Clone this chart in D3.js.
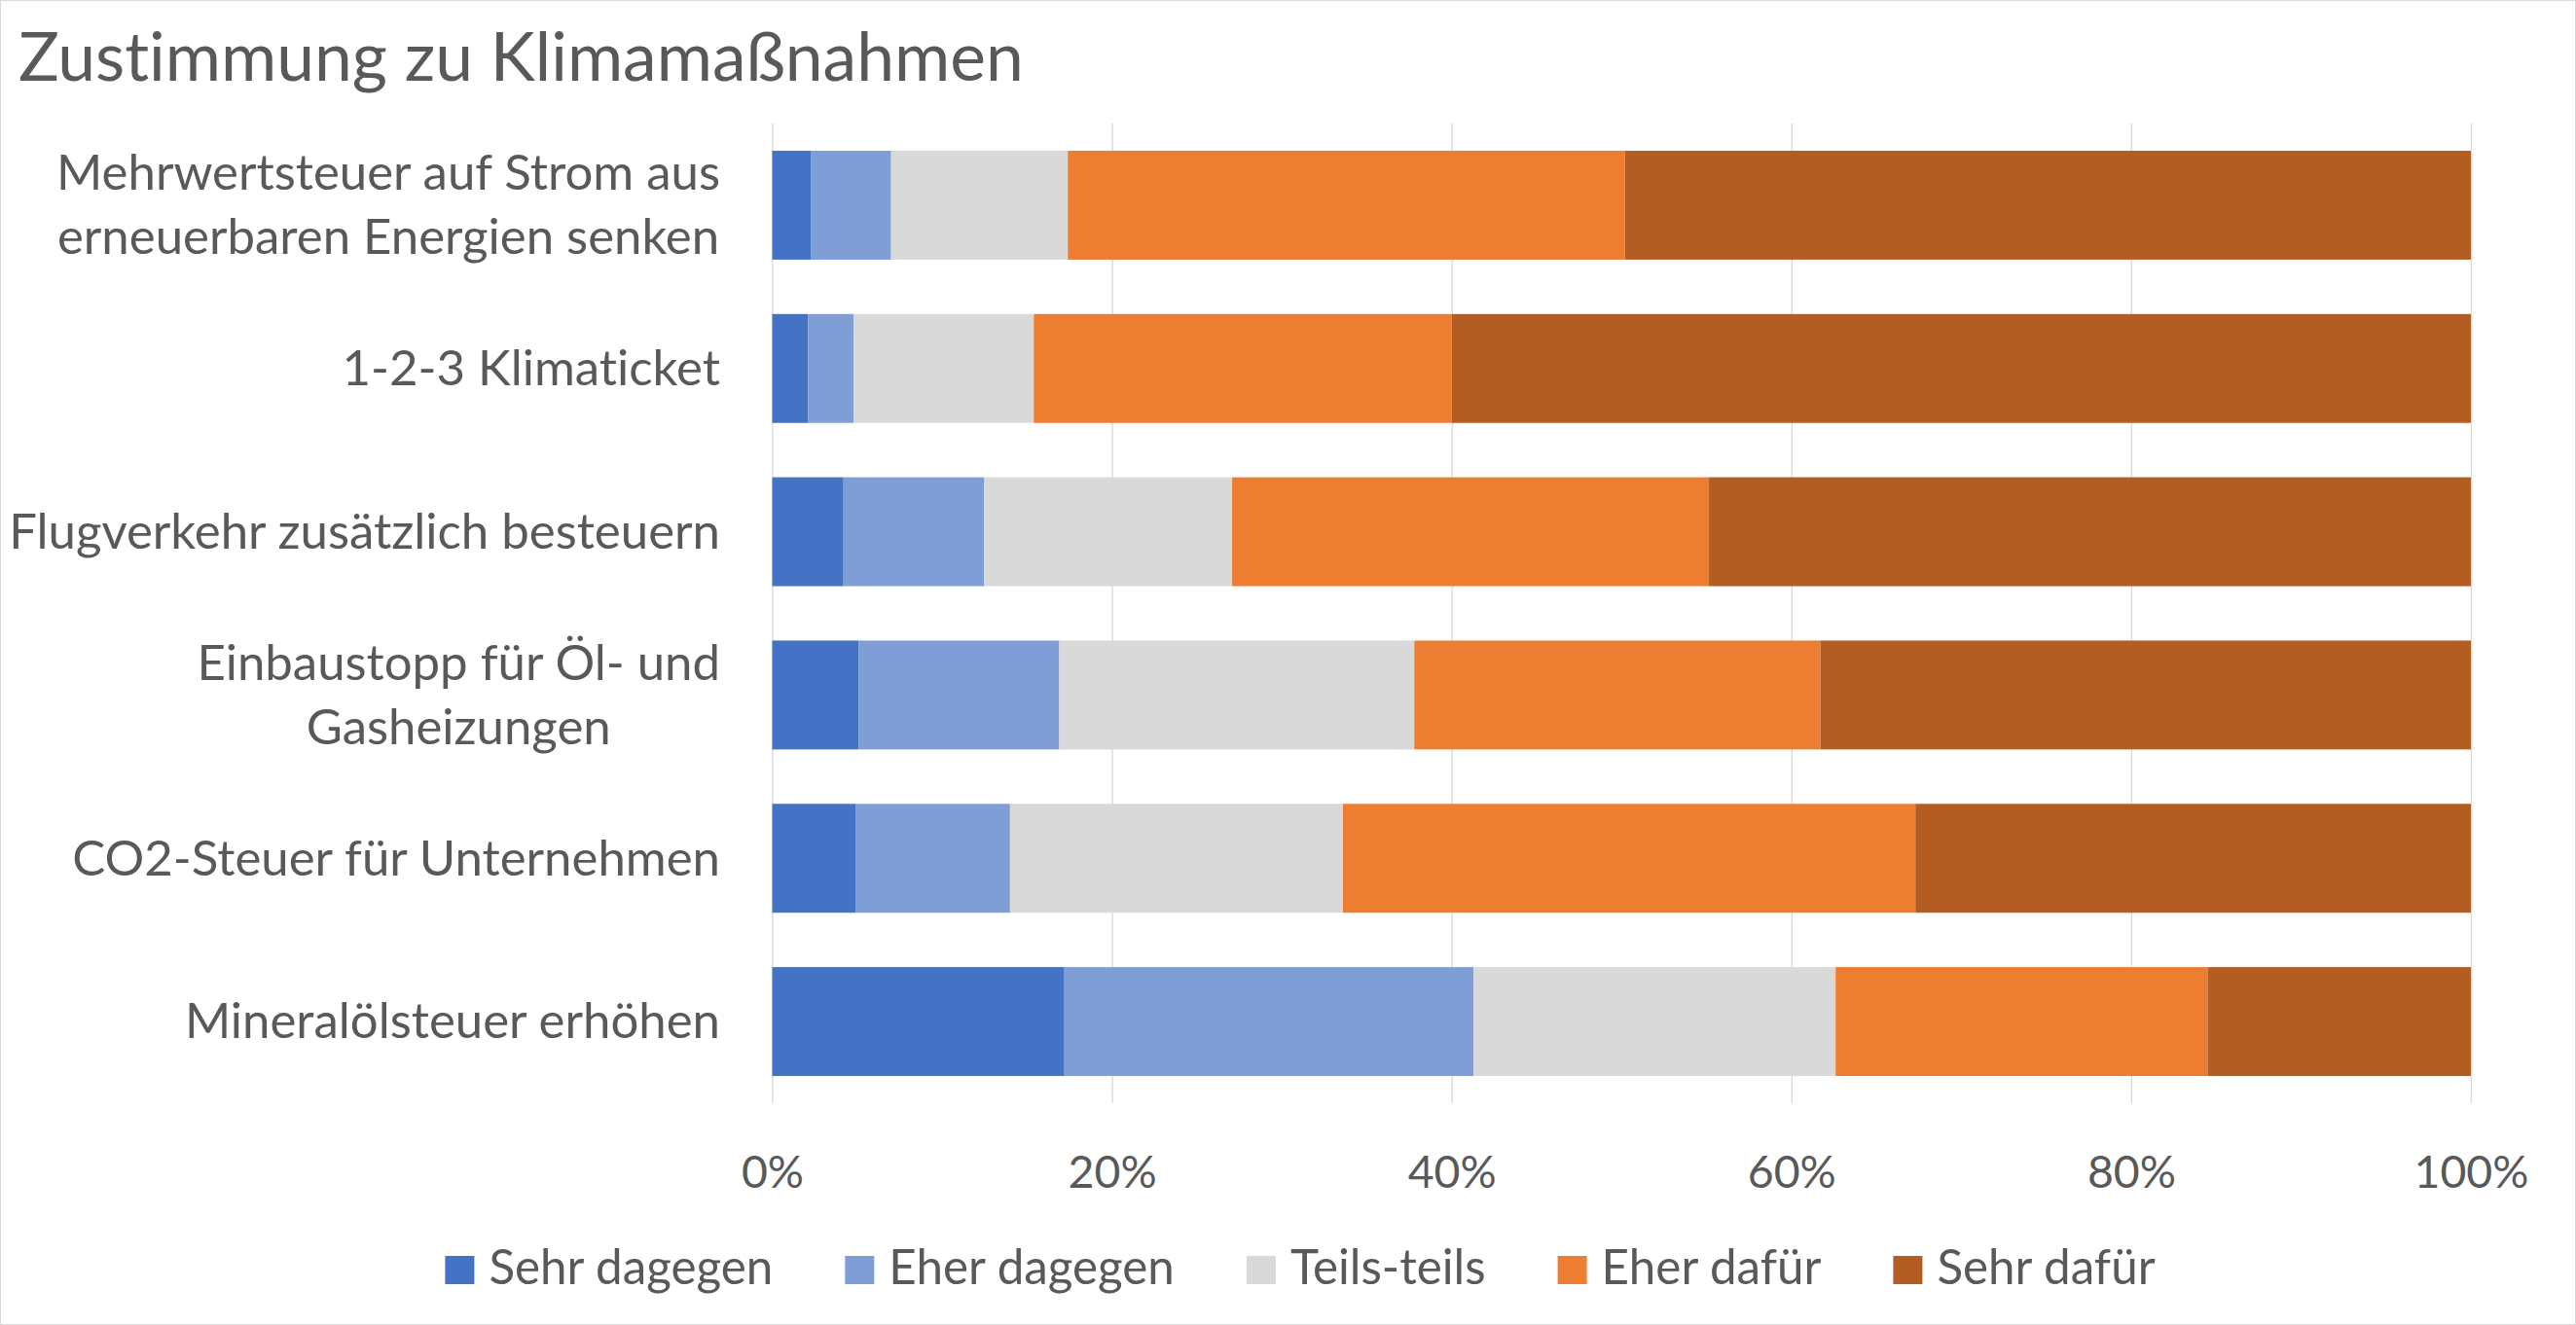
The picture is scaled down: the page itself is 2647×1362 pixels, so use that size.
<!DOCTYPE html>
<html>
<head>
<meta charset="utf-8">
<script src="https://cdn.jsdelivr.net/npm/d3@7"></script>
<style>
  body { margin: 0; background: #fff; }
  text { font-family: Lato, "Noto Sans", sans-serif; fill: #595959; font-variant-ligatures: none; }
</style>
</head>
<body>
<script>
// chart data (percent per answer)
var categories = [
    "Mehrwertsteuer auf Strom aus|erneuerbaren Energien senken",
    "1-2-3 Klimaticket",
    "Flugverkehr zusätzlich besteuern",
    "Einbaustopp für Öl- und|Gasheizungen",
    "CO2-Steuer für Unternehmen",
    "Mineralölsteuer erhöhen"
];
var seriesNames = ["Sehr dagegen", "Eher dagegen", "Teils-teils", "Eher dafür", "Sehr dafür"];
var sehrDagegen = [2.3, 2.1, 4.2, 5.1, 4.9, 17.2];
var eherDagegen = [4.7, 2.7, 8.3, 11.8, 9.1, 24.1];
var teilsTeils  = [10.4, 10.6, 14.6, 20.9, 19.6, 21.3];
var eherDafuer  = [32.8, 24.6, 28.1, 23.9, 33.7, 21.9];
var sehrDafuer  = [49.8, 60.0, 44.9, 38.3, 32.7, 15.5];
var tickValues = [0, 0.2, 0.4, 0.6, 0.8, 1];
var colors = ["#4472C4", "#7F9ED6", "#D9D9D9", "#ED7D31", "#B35D22"];

var width = 2647,
    height = 1362;

var svg = d3.select("body")
    .append("svg")
    .attr("width", width)
    .attr("height", height);

// font size so that a sample string gets a given width
function fitSize(sample, target) {
    var t = svg.append("text").attr("font-size", 100).text(sample);
    var w = t.node().getComputedTextLength();
    t.remove();
    return 100 * target / w;
}

// outer border
svg.append("rect")
    .attr("x", 0.5).attr("y", 0.5)
    .attr("width", width - 1).attr("height", height - 1)
    .attr("fill", "#fff")
    .attr("stroke", "#D9D9D9");

// title
var titleSize = fitSize("Zustimmung zu Klimamaßnahmen", 1033);
svg.append("text")
    .attr("x", 19)
    .attr("y", 83)
    .attr("font-size", titleSize)
    .text("Zustimmung zu Klimamaßnahmen");

// build rows and stack them to 100%
var rows = categories.map(function(c, i) {
    return {
        cat: c,
        "Sehr dagegen": sehrDagegen[i],
        "Eher dagegen": eherDagegen[i],
        "Teils-teils": teilsTeils[i],
        "Eher dafür": eherDafuer[i],
        "Sehr dafür": sehrDafuer[i]
    };
});
var stacked = d3.stack()
    .keys(seriesNames)
    .offset(d3.stackOffsetExpand)(rows);

var x = d3.scaleLinear().domain([0, 1]).range([793.5, 2539]);
var y = d3.scaleBand()
    .domain(categories)
    .range([127, 1134])
    .paddingInner(0.333)
    .paddingOuter(0.1665);
var color = d3.scaleOrdinal().domain(seriesNames).range(colors);

// gridlines + percent labels
var tickSize = fitSize("100%", 118);
var xAxis = svg.append("g")
    .attr("transform", "translate(0,1134)")
    .call(d3.axisBottom(x)
        .tickValues(tickValues)
        .tickSize(-(1134 - 127))
        .tickFormat(d3.format(".0%")));
xAxis.select(".domain").remove();
xAxis.selectAll("line").attr("stroke", "#D9D9D9").attr("stroke-width", 1.3);
xAxis.selectAll("text")
    .attr("y", 87)
    .attr("dy", 0)
    .attr("font-size", tickSize)
    .attr("font-family", "Lato, sans-serif")
    .attr("fill", "#595959");

// bars
svg.append("g")
    .selectAll("g")
    .data(stacked)
    .enter()
    .append("g")
    .attr("fill", function(d) { return color(d.key); })
    .selectAll("rect")
    .data(function(d) { return d; })
    .enter()
    .append("rect")
    .attr("x", function(d) { return x(d[0]); })
    .attr("width", function(d) { return x(d[1]) - x(d[0]); })
    .attr("y", function(d) { return y(d.data.cat); })
    .attr("height", y.bandwidth());

// category labels (multi-line ones centred within their block)
var labelSize = fitSize("Flugverkehr zusätzlich besteuern", 731);
var lineGap = 66;
var labels = svg.append("g")
    .selectAll("g")
    .data(categories)
    .enter()
    .append("g");
labels.each(function(c) {
    var g = d3.select(this);
    var lines = c.split("|");
    var cy = y(c) + y.bandwidth() / 2;
    var texts = g.selectAll("text")
        .data(lines)
        .enter()
        .append("text")
        .attr("font-size", labelSize)
        .attr("y", function(d, i) {
            return cy + 0.34 * labelSize + (i - (lines.length - 1) / 2) * lineGap;
        })
        .text(function(d) { return d; });
    var maxW = 0;
    texts.each(function() { maxW = Math.max(maxW, this.getComputedTextLength()); });
    texts.attr("text-anchor", "middle").attr("x", 740 - maxW / 2);
});

// legend
var legendSize = fitSize("Sehr dagegen", 292);
var legend = svg.append("g");
var items = legend.selectAll("g")
    .data(seriesNames)
    .enter()
    .append("g");
items.append("rect")
    .attr("y", 1291)
    .attr("width", 30)
    .attr("height", 29)
    .attr("fill", function(d) { return color(d); });
items.append("text")
    .attr("x", 45)
    .attr("y", 1320)
    .attr("font-size", legendSize)
    .text(function(d) { return d; });
var pos = 0, offsets = [];
items.each(function() {
    offsets.push(pos);
    pos += 45 + d3.select(this).select("text").node().getComputedTextLength() + 74;
});
var total = pos - 74;
var start = 1336 - total / 2;
items.attr("transform", function(d, i) { return "translate(" + (start + offsets[i]) + ",0)"; });
</script>
</body>
</html>
